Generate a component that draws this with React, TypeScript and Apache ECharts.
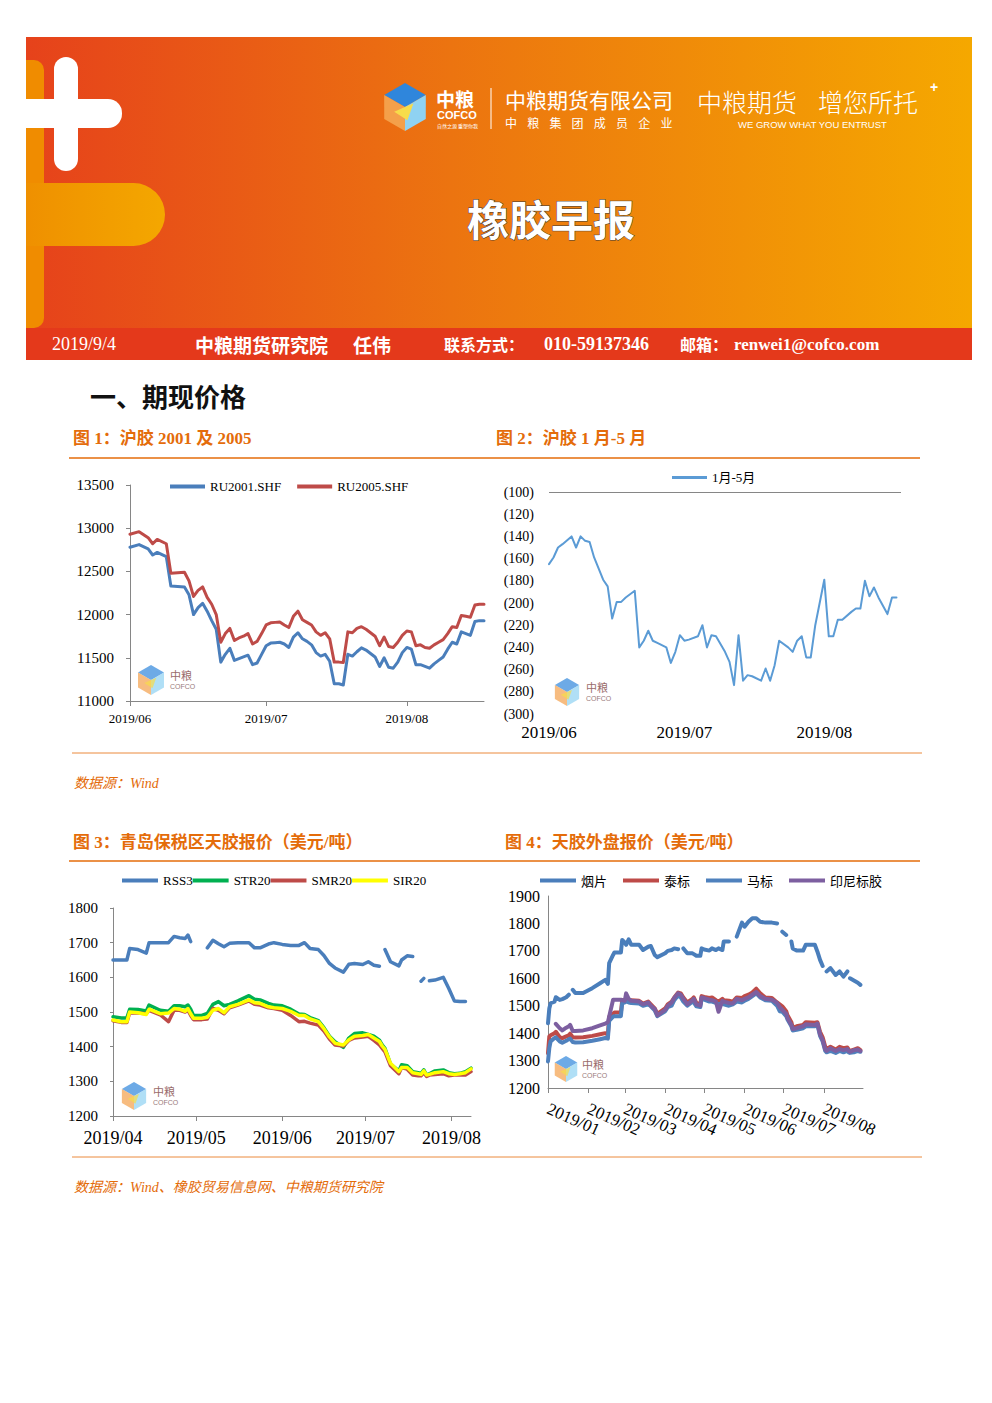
import React, { useEffect, useRef } from 'react';
import * as echarts from 'echarts';

const SERIF = "'Liberation Serif', 'Times New Roman', serif";
const CJK = "'Noto Sans CJK SC', sans-serif";
const MIX = "'Liberation Serif', 'Noto Sans CJK SC', serif";
const ORANGE = '#e46c0a';
const AXIS = '#868686';

const dd = (m: string, days: number[]) => days.map((x) => `2019-${m}-${String(x).padStart(2, '0')}`);

// ---------- 图1：沪胶2001及2005 ----------
const c1Dates = [
  ...dd('06', [3, 5, 7, 8, 9, 11, 12, 15, 16, 17, 18, 19, 20, 21, 22, 23, 24, 25, 26, 27, 28, 29, 30]),
  ...dd('07', [1, 2, 3, 4, 5, 6, 7, 8, 9, 10, 11, 12, 13, 14, 15, 16, 17, 18, 19, 20, 21, 22, 23, 24, 25, 26, 27, 28, 29, 30, 31]),
  ...dd('08', [1, 2, 3, 4, 5, 6, 7, 8, 9, 10, 11, 12, 13, 14, 15, 16, 17, 18, 19, 20]),
];
const ru2001 = [
  12779, 12810, 12760, 12690, 12720, 12670, 12330, 12320, 12230, 12000, 12080, 12130, 12040, 11930, 11830, 11450, 11540, 11610, 11470, 11490, 11510, 11530, 11420,
  11440, 11540, 11640, 11670, 11675, 11680, 11660, 11620, 11740, 11790, 11720, 11690, 11650, 11560, 11520, 11540, 11460, 11200, 11200, 11185, 11540, 11520, 11570, 11615, 11590, 11550, 11510, 11400, 11500, 11390, 11380,
  11450, 11560, 11620, 11600, 11420, 11420, 11400, 11380, 11430, 11470, 11510, 11600, 11680, 11660, 11800, 11780, 11760, 11920, 11930, 11930,
];
const ru2005 = [
  12930, 12960, 12890, 12820, 12870, 12820, 12480, 12490, 12390, 12210, 12280, 12320, 12200, 12120, 12000, 11680, 11780, 11840, 11700, 11730, 11750, 11780, 11660,
  11690, 11780, 11880, 11905, 11910, 11915, 11880, 11850, 11980, 12040, 11940, 11910, 11880, 11800, 11760, 11790, 11720, 11450, 11450, 11445, 11800, 11790, 11840, 11860, 11830, 11790, 11750, 11640, 11740, 11630, 11620,
  11680, 11760, 11810, 11800, 11640, 11650, 11620, 11610, 11650, 11680, 11710, 11780, 11860, 11850, 11990, 11980, 11970, 12110, 12120, 12120,
];

// ---------- 图2：沪胶1月-5月 ----------
const c2Dates = [
  ...dd('06', [3, 4, 5, 6, 8, 9, 10, 11, 12, 13, 15, 16, 17, 18, 19, 20, 22, 23, 24, 25, 26, 27, 29, 30]),
  ...dd('07', [1, 2, 3, 4, 6, 7, 8, 9, 10, 12, 13, 14, 15, 16, 17, 18, 20, 21, 22, 23, 24, 26, 27, 28, 29, 30, 31]),
  ...dd('08', [1, 3, 4, 5, 6, 7, 9, 10, 11, 12, 13, 14, 15, 17, 18, 19]),
];
const spread15 = [
  -165, -159, -150, -147, -140, -150, -140, -144, -145, -159, -179, -185, -214, -199, -199, -195, -189, -240, -234, -225, -234, -236, -240, -254,
  -244, -229, -234, -233, -230, -220, -240, -229, -230, -244, -253, -274, -229, -270, -265, -266, -270, -259, -270, -256, -234, -240, -244, -234, -230, -249, -249,
  -220, -179, -230, -230, -215, -215, -208, -205, -205, -180, -194, -186, -195, -210, -195, -195,
];

// ---------- 图3：青岛保税区天胶报价 ----------
const c3Dates = [
  ...dd('04', [1, 4, 6, 7, 10, 13, 14, 18, 21, 23, 25, 27, 28, 29, 30]),
  ...dd('05', [3, 5, 7, 9, 11, 13, 16, 20, 22, 24, 27, 29]),
  ...dd('06', [1, 4, 7, 9, 11, 14, 16, 18, 20, 23, 25, 27, 30]),
  ...dd('07', [2, 4, 6, 7, 8, 10, 13, 14, 16, 18, 20, 21, 22, 23, 24, 26, 29, 31]),
  ...dd('08', [2, 4, 6, 8]),
];
const rss3 = [
  1650, 1650, 1650, 1683, 1680, 1670, 1700, 1700, 1700, 1718, 1714, 1712, 1722, 1703, null,
  null, 1685, 1707, 1697, 1688, 1698, 1700, 1700, 1685, 1685, 1696, 1700,
  1695, 1692, 1692, 1700, 1683, 1680, 1663, 1640, 1627, 1615, 1638, 1640, 1637,
  1645, 1635, 1632, null, 1680, 1645, 1633, 1650, 1662, 1660, null, 1589, 1597, null, 1590, 1592, 1600, 1568,
  1532, 1530, 1530, null,
];
const str20 = [
  1486, 1483, 1483, 1508, 1507, 1503, 1520, 1505, 1502, 1518, 1518, 1515, 1520, 1508, 1490,
  1490, 1496, 1522, 1530, 1518, 1522, 1532, 1547, 1537, 1535, 1525, 1520,
  1518, 1508, 1494, 1493, 1484, 1475, 1455, 1430, 1414, 1398, 1425, 1438, 1440,
  1435, 1430, 1419, 1405, 1395, 1350, 1330, 1348, 1345, 1328, 1325, 1323, 1333, 1318, 1322, 1330, 1333, 1325,
  1322, 1323, 1328, 1338,
];
const smr20 = [
  1475, 1470, 1470, 1498, 1497, 1495, 1505, 1492, 1472, 1505, 1505, 1500, 1505, 1490, 1478,
  1478, 1480, 1510, 1505, 1495, 1512, 1520, 1532, 1522, 1520, 1512, 1510,
  1505, 1490, 1472, 1473, 1468, 1462, 1445, 1422, 1405, 1402, 1418, 1425, 1428,
  1430, 1418, 1405, 1395, 1385, 1345, 1322, 1340, 1335, 1318, 1316, 1316, 1325, 1314, 1318, 1320, 1322, 1316,
  1318, 1318, 1318, 1328,
];
const sir20 = [
  1477, 1472, 1472, 1500, 1498, 1493, 1508, 1495, 1497, 1510, 1508, 1502, 1510, 1495, 1482,
  1482, 1485, 1505, 1510, 1498, 1515, 1522, 1535, 1527, 1525, 1515, 1512,
  1510, 1502, 1490, 1490, 1480, 1472, 1452, 1428, 1410, 1405, 1420, 1430, 1432,
  1435, 1425, 1415, 1402, 1392, 1352, 1328, 1340, 1340, 1325, 1322, 1320, 1330, 1318, 1320, 1325, 1328, 1322,
  1320, 1322, 1325, 1336,
];

// ---------- 图4：天胶外盘报价 ----------
const c4Dates = [
  ...dd('01', [1, 2, 3, 6, 7, 10, 12, 15, 17, 18, 20, 22, 28]),
  ...dd('02', [4, 10, 14, 16, 17, 20, 21, 26, 27]),
  ...dd('03', [1, 2, 4, 6, 12, 15, 19, 21, 24, 26]),
  ...dd('04', [1, 3, 6, 8, 11, 13, 15, 18, 22, 23, 25, 28, 29]),
  ...dd('05', [1, 5, 7, 10, 12, 15, 16, 20, 23, 26, 30]),
  ...dd('06', [1, 4, 7, 10, 13, 17, 22, 26, 28, 30]),
  ...dd('07', [3, 4, 7, 8, 11, 16, 18, 25, 27, 29, 31]),
  ...dd('08', [2, 3, 6, 10, 13, 16, 19, 20, 21, 24, 27, 29]),
];
const yanpian = [
  1436, 1490, 1509, 1515, 1531, 1521, 1524, 1531, 1540, null, 1558, 1546, 1546,
  1564, 1582, 1594, 1580, 1655, 1685, 1694, 1694, 1740,
  1730, 1722, 1742, 1722, 1722, 1703, 1715, 1718, 1685, 1677,
  1691, 1700, 1703, 1709, 1706, null, 1709, 1691, 1691, 1688, 1682, 1682, 1709,
  1705, 1701, 1709, 1703, 1709, 1703, 1734, 1734, null, 1752, 1803,
  1788, 1806, 1819, 1819, 1806, 1803, 1803, 1800, null, 1770,
  1758, null, 1734, 1709, 1701, 1701, 1722, 1722, 1697, 1667, 1645,
  null, 1625, 1637, 1612, 1625, 1606, 1625, null, 1600, 1592, 1584, 1576,
];
const taibiao = [
  1327, 1388, 1392, 1400, 1405, 1385, 1382, 1388, 1392, 1398, 1385, 1384, 1385,
  1390, 1396, 1400, 1394, 1460, 1470, 1475, 1475, 1520,
  1522, 1525, 1520, 1520, 1518, 1508, 1515, 1505, 1490, 1470,
  1490, 1505, 1515, 1530, 1548, 1545, 1530, 1512, 1525, 1530, 1510, 1505, 1535,
  1532, 1528, 1530, 1520, 1515, 1525, 1520, 1518, 1515, 1530, 1528,
  1535, 1540, 1548, 1562, 1545, 1530, 1528, 1512, 1505, 1498,
  1480, 1465, 1440, 1420, 1425, 1430, 1440, 1438, 1440, 1405, 1385,
  1350, 1342, 1350, 1340, 1350, 1345, 1348, 1340, 1335, 1340, 1345, 1338,
];
const mabiao = [
  1297, 1345, 1370, 1382, 1385, 1370, 1365, 1372, 1378, 1380, 1368, 1366, 1367,
  1372, 1378, 1382, 1380, 1445, 1460, 1462, 1462, 1510,
  1512, 1515, 1512, 1510, 1508, 1500, 1505, 1498, 1483, 1462,
  1480, 1495, 1500, 1520, 1538, 1530, 1515, 1500, 1515, 1512, 1498, 1495, 1525,
  1522, 1515, 1515, 1510, 1505, 1510, 1505, 1500, 1505, 1515, 1512,
  1518, 1525, 1535, 1545, 1530, 1520, 1518, 1500, 1480, 1478,
  1462, 1450, 1425, 1410, 1412, 1418, 1425, 1425, 1430, 1390, 1370,
  1335, 1330, 1335, 1328, 1335, 1330, 1335, 1330, 1328, 1330, 1335, 1332,
];
const yinni = [
  null, null, null, null, 1434, 1418, 1410, 1420, 1425, 1430, 1408, 1408, 1410,
  1418, 1428, 1435, 1440, null, 1522, 1522, 1522, 1520,
  1518, 1545, 1525, 1518, 1515, 1505, 1512, 1500, 1488, 1465,
  1485, 1500, 1512, 1528, 1545, 1540, 1525, 1505, 1520, 1525, 1505, 1500, 1530,
  1528, 1522, 1520, 1515, 1478, 1518, 1515, 1510, 1508, 1525, 1520,
  1525, 1530, 1540, 1550, 1535, 1525, 1522, 1510, 1495, 1485,
  1470, 1455, 1430, 1415, 1418, 1425, 1432, 1430, 1435, 1395, 1375,
  1340, 1335, 1345, 1335, 1342, 1338, 1342, 1335, 1332, 1338, 1340, 1335,
];

const c12Ticks = ['2019-06-03', '2019-07-03', '2019-08-03'];
const c3Ticks = ['2019-04-01', '2019-05-01', '2019-06-01', '2019-07-01', '2019-08-01'];
const c4Ticks = ['2019-01-01', '2019-02-01', '2019-03-01', '2019-04-01', '2019-05-01', '2019-06-01', '2019-07-01', '2019-08-01'];
const c4LabelsOdd = ['2019-01-01', '2019-03-01', '2019-05-01', '2019-07-01'];
const c4LabelsEven = ['2019-02-01', '2019-04-01', '2019-06-01', '2019-08-01'];

// ---------- helpers ----------
const ts = (s: string) => {
  const [y, m, d] = s.split('-').map(Number);
  return new Date(y, m - 1, d).getTime();
};
const ym = (v: number) => {
  const t = new Date(v);
  return t.getFullYear() + '/' + String(t.getMonth() + 1).padStart(2, '0');
};
const zip = (dates: string[], vals: (number | null)[]) =>
  dates.map((t, i) => [ts(t), vals[i] === undefined || vals[i] === null ? '-' : vals[i]]);

function xTime(gridIndex: number, min: string, max: string, ticks: string[], label: any, extra: any = {}, labelTicks?: string[]) {
  const tv = ticks.map(ts);
  const lv = (labelTicks || ticks).map(ts);
  return {
    type: 'value',
    gridIndex,
    min: ts(min),
    max: ts(max),
    scale: true,
    axisLine: { show: true, onZero: false, lineStyle: { color: AXIS, width: 1 } },
    axisTick: { show: true, length: 5, customValues: tv, lineStyle: { color: AXIS } },
    axisLabel: {
      customValues: lv,
      formatter: ym,
      color: '#000',
      fontFamily: SERIF,
      hideOverlap: false,
      ...label,
    },
    splitLine: { show: false },
    ...extra,
  };
}

function yVal(gridIndex: number, min: number, max: number, interval: number, label: any, extra: any = {}) {
  return {
    type: 'value',
    gridIndex,
    min,
    max,
    interval,
    axisLine: { show: true, lineStyle: { color: AXIS, width: 1 } },
    axisTick: { show: true, length: 4, lineStyle: { color: AXIS } },
    axisLabel: { color: '#000', fontFamily: SERIF, formatter: (v: number) => String(v), ...label },
    splitLine: { show: false },
    ...extra,
  };
}

function line(name: string, xi: number, dates: string[], vals: (number | null)[], color: string, width: number, connect = true) {
  return {
    type: 'line',
    name,
    xAxisIndex: xi,
    yAxisIndex: xi,
    data: zip(dates, vals),
    showSymbol: false,
    symbol: 'none',
    connectNulls: connect,
    color,
    lineStyle: { color, width, cap: 'round', join: 'round' },
    emphasis: { disabled: true },
  };
}

function txt(text: string, x: number, y: number, font: string, fill: string, align = 'left', extra: any = {}) {
  return {
    type: 'text',
    x,
    y,
    silent: true,
    style: {
      text,
      font,
      fill,
      align,
      textAlign: align,
      verticalAlign: 'middle',
      textVerticalAlign: 'middle',
      ...extra,
    },
  };
}

function cube(cx: number, cy: number, r: number, op: number) {
  const V = (deg: number) => [cx + r * Math.cos((deg * Math.PI) / 180), cy + r * Math.sin((deg * Math.PI) / 180)];
  const C = [cx, cy];
  return [
    { type: 'polygon', silent: true, shape: { points: [V(-90), V(-30), C, V(210)] }, style: { fill: '#2f86dc', opacity: op } },
    { type: 'polygon', silent: true, shape: { points: [V(210), C, V(90), V(150)] }, style: { fill: '#f4a04a', opacity: op } },
    { type: 'polygon', silent: true, shape: { points: [C, V(-30), V(30), V(90)] }, style: { fill: '#8fd2f2', opacity: op } },
    { type: 'polygon', silent: true, shape: { points: [C, [cx + r * 0.35, cy - r * 0.15], [cx + r * 0.1, cy + r * 0.55], [cx - r * 0.45, cy + r * 0.2]] }, style: { fill: '#f7dc4a', opacity: op } },
  ];
}

function mark(cx: number, cy: number, r: number, tx: number) {
  return [
    ...cube(cx, cy, r, 0.7),
    txt('中粮', tx, cy - 5, `11px ${CJK}`, '#9a6b6b'),
    txt('COFCO', tx, cy + 6, `7px 'Liberation Sans', sans-serif`, '#9a7b7b'),
  ];
}

function buildOption() {
  const headerGrad = new echarts.graphic.LinearGradient(0, 0, 1, 0, [
    { offset: 0, color: '#e6421b' },
    { offset: 0.45, color: '#ec7410' },
    { offset: 1, color: '#f5a800' },
  ]);
  const bulgeGrad = new echarts.graphic.LinearGradient(0, 0, 1, 0, [
    { offset: 0, color: '#ef9000' },
    { offset: 1, color: '#f4a700' },
  ]);
  const tagline = '中粮集团成员企业'.split('');

  const graphics: any[] = [
    { type: 'rect', silent: true, shape: { x: 26, y: 37, width: 946, height: 292 }, style: { fill: headerGrad } },
    { type: 'rect', silent: true, shape: { x: 26, y: 60, width: 18, height: 268, r: [0, 10, 10, 0] }, style: { fill: '#f08c00' } },
    { type: 'rect', silent: true, shape: { x: 26, y: 183, width: 139, height: 63, r: [0, 32, 32, 0] }, style: { fill: bulgeGrad } },
    { type: 'rect', silent: true, shape: { x: 54, y: 57, width: 24, height: 114, r: 12 }, style: { fill: '#ffffff' } },
    { type: 'rect', silent: true, shape: { x: 26, y: 99, width: 96, height: 29, r: [0, 14, 14, 0] }, style: { fill: '#ffffff' } },
    { type: 'rect', silent: true, shape: { x: 26, y: 328, width: 946, height: 32 }, style: { fill: '#e4391b' } },
    ...cube(405, 107, 24, 1),
    txt('中粮', 436, 98, `bold 19px ${CJK}`, '#fff'),
    txt('COFCO', 437, 115, `bold 11px 'Liberation Sans', sans-serif`, '#fff'),
    txt('自然之源 重塑你我', 437, 125, `5px ${CJK}`, '#fff'),
    { type: 'line', silent: true, shape: { x1: 491, y1: 88, x2: 491, y2: 129 }, style: { stroke: '#fff', lineWidth: 1 } },
    txt('中粮期货有限公司', 505, 99, `21px ${CJK}`, '#fff'),
    ...tagline.map((c, i) => txt(c, 505 + i * 22.2, 122, `12px ${CJK}`, '#fff')),
    txt('中粮期货', 697, 101, `300 25px ${CJK}`, '#fff'),
    txt('增您所托', 818, 101, `300 25px ${CJK}`, '#fff'),
    txt('+', 930, 87, `bold 14px 'Liberation Sans', sans-serif`, '#fff'),
    txt('WE GROW WHAT YOU ENTRUST', 738, 124, `9.5px 'Liberation Sans', sans-serif`, '#fff'),
    txt('橡胶早报', 551, 217, `bold 42px ${CJK}`, '#fff', 'center', { stroke: '#3a3a3a', lineWidth: 1 }),
    txt('2019/9/4', 52, 344, `18px ${SERIF}`, '#fff'),
    txt('中粮期货研究院', 195, 344, `bold 19px ${CJK}`, '#fff'),
    txt('任伟', 353, 344, `bold 19px ${CJK}`, '#fff'),
    txt('联系方式：', 444, 344, `bold 16px ${CJK}`, '#fff'),
    txt('010-59137346', 544, 344, `bold 18px ${SERIF}`, '#fff'),
    txt('邮箱：', 680, 344, `bold 16px ${CJK}`, '#fff'),
    txt('renwei1@cofco.com', 734, 344, `bold 17px ${SERIF}`, '#fff'),

    txt('一、期现价格', 90, 395, `bold 26px ${CJK}`, '#111'),
    txt('图 1：沪胶 2001 及 2005', 73, 438, `bold 17px ${MIX}`, ORANGE),
    txt('图 2：沪胶 1 月-5 月', 496, 438, `bold 17px ${MIX}`, ORANGE),
    { type: 'line', silent: true, shape: { x1: 69, y1: 458, x2: 920, y2: 458 }, style: { stroke: ORANGE, lineWidth: 1.5 } },
    { type: 'line', silent: true, shape: { x1: 72, y1: 753, x2: 922, y2: 753 }, style: { stroke: '#eb8a3c', lineWidth: 1 } },
    txt('数据源：Wind', 74, 783, `italic 14px ${MIX}`, ORANGE),
    txt('图 3：青岛保税区天胶报价（美元/吨）', 73, 842, `bold 17px ${MIX}`, ORANGE),
    txt('图 4：天胶外盘报价（美元/吨）', 505, 842, `bold 17px ${MIX}`, ORANGE),
    { type: 'line', silent: true, shape: { x1: 69, y1: 861, x2: 920, y2: 861 }, style: { stroke: ORANGE, lineWidth: 1.5 } },
    { type: 'line', silent: true, shape: { x1: 72, y1: 1157, x2: 922, y2: 1157 }, style: { stroke: '#eb8a3c', lineWidth: 1 } },
    txt('数据源：Wind、橡胶贸易信息网、中粮期货研究院', 74, 1187, `italic 14px ${MIX}`, ORANGE),

    ...mark(151, 680, 15, 170),
    ...mark(567, 692, 14, 586),
    ...mark(134, 1096, 14, 153),
    ...mark(566, 1069, 13, 582),
  ];

  const legendBase = {
    icon: 'rect',
    padding: 0,
    selectedMode: false,
    orient: 'horizontal',
  };

  const c4Label = { fontSize: 17, margin: 20, rotate: -24 };

  return {
    animation: false,
    backgroundColor: '#ffffff',
    textStyle: { fontFamily: MIX },
    graphic: { elements: graphics },
    grid: [
      { left: 130, top: 485, width: 354, height: 216 },
      { left: 549, top: 492, width: 352, height: 222 },
      { left: 113, top: 908, width: 358, height: 208 },
      { left: 548, top: 896, width: 315, height: 192 },
    ],
    legend: [
      { ...legendBase, left: 170, top: 480, itemWidth: 35, itemHeight: 4, itemGap: 16, data: ['RU2001.SHF', 'RU2005.SHF'], textStyle: { fontFamily: SERIF, fontSize: 13, color: '#000' } },
      { ...legendBase, left: 672, top: 471, itemWidth: 35, itemHeight: 3, itemGap: 10, data: ['1月-5月'], textStyle: { fontFamily: MIX, fontSize: 13, color: '#000' } },
      { ...legendBase, left: 122, top: 874, itemWidth: 36, itemHeight: 4, itemGap: 0, data: ['RSS3', 'STR20', 'SMR20', 'SIR20'], textStyle: { fontFamily: SERIF, fontSize: 13, color: '#000' } },
      { ...legendBase, left: 540, top: 874, itemWidth: 36, itemHeight: 4, itemGap: 16, data: ['烟片', '泰标', '马标', '印尼标胶'], textStyle: { fontFamily: CJK, fontSize: 13, color: '#000' } },
    ],
    xAxis: [
      xTime(0, '2019-06-03', '2019-08-20', c12Ticks, { fontSize: 13, margin: 11 }),
      xTime(1, '2019-06-03', '2019-08-20', c12Ticks, { fontSize: 17, margin: 10 }, { axisLine: { show: false }, axisTick: { show: false } }),
      xTime(2, '2019-04-01', '2019-08-08', c3Ticks, { fontSize: 18, margin: 13 }),
      xTime(3, '2019-01-01', '2019-08-31', c4Ticks, c4Label, { position: 'bottom' }, c4LabelsOdd),
      xTime(3, '2019-01-01', '2019-08-31', c4Ticks, c4Label, { position: 'bottom', axisLine: { show: false }, axisTick: { show: false } }, c4LabelsEven),
    ],
    yAxis: [
      yVal(0, 11000, 13500, 500, { fontSize: 15, margin: 16 }),
      yVal(1, -300, -100, 20, { fontSize: 14, margin: 15, formatter: (v: number) => `(${Math.abs(v)})` }, { axisLine: { show: false }, axisTick: { show: false } }),
      yVal(2, 1200, 1800, 100, { fontSize: 15, margin: 15 }, { axisTick: { show: true, length: 3, lineStyle: { color: AXIS } } }),
      yVal(3, 1200, 1900, 100, { fontSize: 16, margin: 8 }, { axisTick: { show: false } }),
    ],
    series: [
      line('RU2001.SHF', 0, c1Dates, ru2001, '#4a7ebb', 3),
      line('RU2005.SHF', 0, c1Dates, ru2005, '#be4b48', 3),
      {
        ...line('1月-5月', 1, c2Dates, spread15, '#5b9bd5', 2),
        markLine: {
          silent: true,
          symbol: 'none',
          label: { show: false },
          lineStyle: { color: AXIS, width: 1, type: 'solid' },
          data: [{ yAxis: -100 }],
        },
      },
      line('RSS3', 2, c3Dates, rss3, '#4a7ebb', 3.5, false),
      line('STR20', 2, c3Dates, str20, '#00b050', 3.5),
      line('SMR20', 2, c3Dates, smr20, '#be4b48', 3.5),
      line('SIR20', 2, c3Dates, sir20, '#ffff00', 3.5),
      line('烟片', 3, c4Dates, yanpian, '#4a7ebb', 4, false),
      line('泰标', 3, c4Dates, taibiao, '#be4b48', 4),
      line('马标', 3, c4Dates, mabiao, '#4f81bd', 4),
      line('印尼标胶', 3, c4Dates, yinni, '#7d5fa0', 4),
    ],
  };
}

export default function App() {
  const ref = useRef<HTMLDivElement>(null);
  useEffect(() => {
    if (!ref.current) return;
    const chart = echarts.init(ref.current, null, { renderer: 'svg' });
    chart.setOption(buildOption() as any);
    return () => chart.dispose();
  }, []);
  return (
    <div
      ref={ref}
      style={{ position: 'absolute', left: 0, top: 0, width: 992, height: 1403, background: '#ffffff' }}
    />
  );
}
